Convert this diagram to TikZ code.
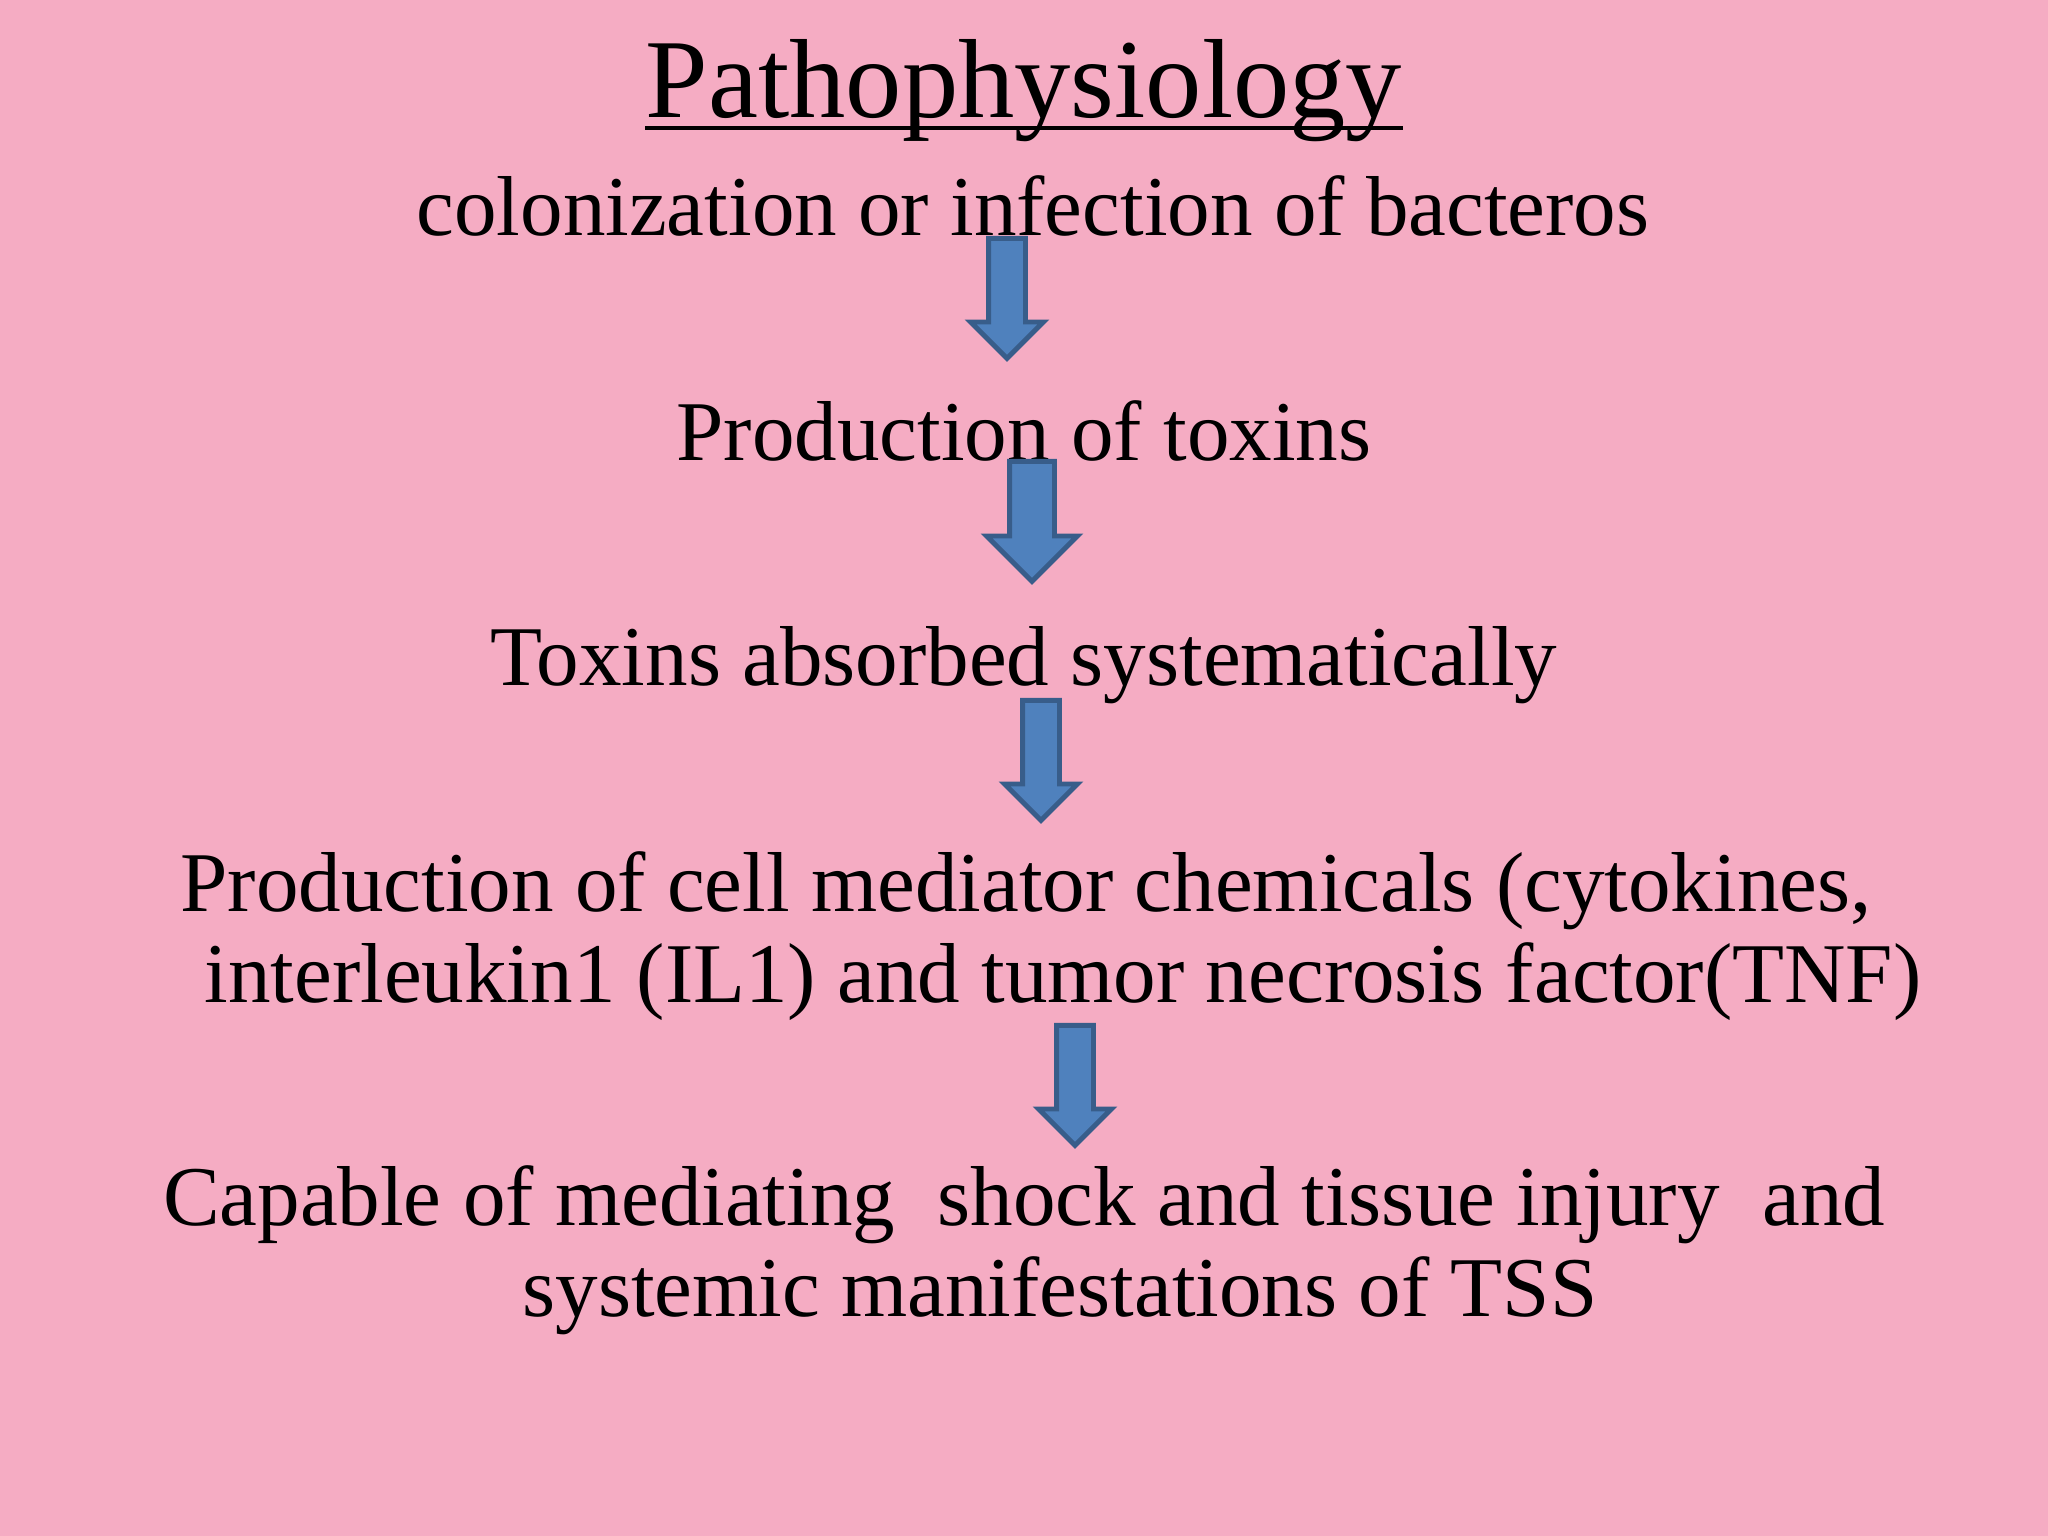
\documentclass[tikz,border=0pt]{standalone}
\usepackage{fontspec}
\setmainfont{Liberation Serif}
\usetikzlibrary{shapes.arrows, positioning}

\definecolor{slidepink}{RGB}{245,172,195}
\definecolor{arrowblue}{RGB}{79,129,189}
\definecolor{arrowedge}{RGB}{56,93,138}

\begin{document}
\begin{tikzpicture}[
        stage/.style={font=\fontsize{24.2}{25.9}\selectfont, align=center, inner sep=0pt, anchor=base},
        heading/.style={font=\fontsize{32}{36}\selectfont, inner sep=0pt, anchor=base},
        downarrow/.style={single arrow, draw=arrowedge, fill=arrowblue, line width=1.4pt, inner sep=0.16cm,
            shape border rotate=270, single arrow head extend=0.18cm, single arrow tip angle=90,
            minimum height=1.2cm, minimum width=0.7cm, anchor=tail}
    ]
    % slide background
    \fill[slidepink] (0,0) rectangle (20.48,15.36);
    \useasboundingbox (0,0) rectangle (20.48,15.36);

    \node (title) [heading] at (10.24,14.18) {Pathophysiology};
    \draw[line width=0.9pt] ([yshift=-0.1cm]title.base west) -- ([yshift=-0.1cm]title.base east);

    \node (colon) [stage] at (10.33,13.00) {colonization or infection of bacteros};
    \node (toxins) [stage] at (10.24,10.75) {Production of toxins};
    \node (absorbed) [stage] at (10.24,8.50) {Toxins absorbed systematically};
    \node (mediators) [stage] at (10.26,5.33) {Production of cell mediator chemicals (cytokines,\\ \hspace*{0.74cm}interleukin1 (IL1) and tumor necrosis factor(TNF)};
    \node (shock) [stage] at (10.24,2.19) {Capable of mediating~ shock and tissue injury~ and\\ \hspace*{0.72cm}systemic manifestations of TSS};

    % block arrows between the steps
    \node (arr1) [downarrow] at (10.07,13.00) {};
    \node (arr2) [downarrow, inner sep=0.2cm, minimum width=0.88cm, single arrow head extend=0.23cm] at (10.32,10.77) {};
    \node (arr3) [downarrow] at (10.41,8.38) {};
    \node (arr4) [downarrow] at (10.75,5.13) {};
\end{tikzpicture}
\end{document}
